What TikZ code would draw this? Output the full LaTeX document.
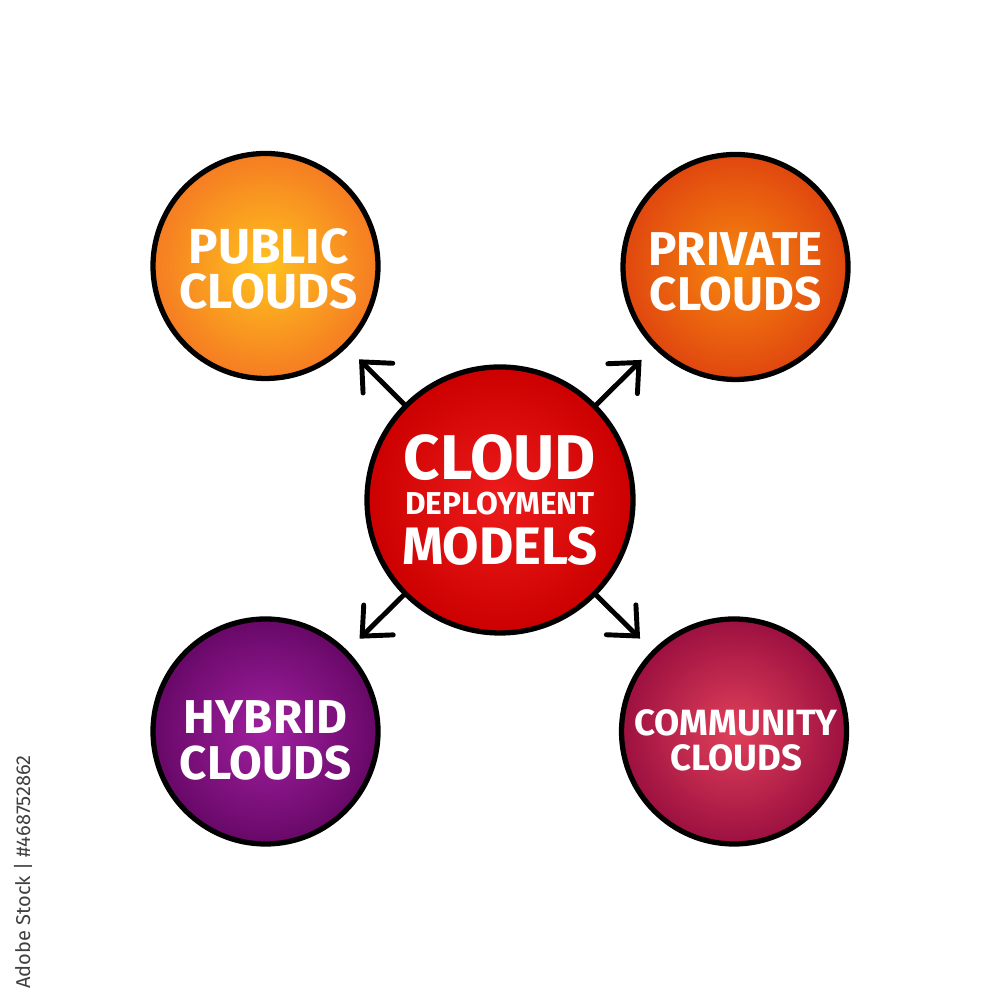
\documentclass[tikz,border=0pt]{standalone}
\usepackage{fontspec}
\setmainfont{Fira Sans}
\usetikzlibrary{arrows.meta}
\usetikzlibrary{positioning}

\definecolor{pubin}{HTML}{FFC21E}
\definecolor{pubout}{HTML}{F57C22}
\definecolor{privin}{HTML}{F7870F}
\definecolor{privout}{HTML}{E0470F}
\definecolor{cdmin}{HTML}{EE1C1C}
\definecolor{cdmout}{HTML}{CC0000}
\definecolor{hybin}{HTML}{A0209F}
\definecolor{hybout}{HTML}{680868}
\definecolor{comin}{HTML}{E0405A}
\definecolor{comout}{HTML}{9C1040}

\tikzset{
  bubble/.style 2 args={circle,draw=black,line width=1.5pt,inner color=#1,outer color=#2,
    text=white,font=\bfseries,align=center,inner sep=0pt,minimum size=2.25cm},
  lbl/.style={text=white,align=center,inner sep=0pt},
  arr/.style={-{Straight Barb[length=2.3mm,width=4.2mm,line cap=round]},line width=1.4pt,line cap=round,shorten >=1.7mm}
}

\begin{document}
\begin{tikzpicture}
  \useasboundingbox (0,0) rectangle (10,10);
  \node[bubble={cdmin}{cdmout},minimum size=2.66cm](cdm) at (5,5)
    {\fontsize{18}{18}\selectfont CLOUD\\[-2pt]\fontsize{9}{9.4}\selectfont DEPLOYMENT\\[2pt]\fontsize{15}{14.2}\selectfont MODELS};
  \node[bubble={pubin}{pubout}](pub) at (2.655,7.34) {};
  \node[bubble={privin}{privout}](priv) at (7.355,7.33) {};
  \node[bubble={hybin}{hybout}](hyb) at (2.655,2.685) {};
  \node[bubble={comin}{comout}](com) at (7.34,2.685) {};
  % texts
  \node[lbl,font=\bfseries\fontsize{14}{12.8}\selectfont](pubtxt) at ([xshift=0.3mm,yshift=-0.3mm]pub.center) {PUBLIC\\CLOUDS};
  \node[lbl,font=\bfseries\fontsize{13.5}{12.8}\selectfont](privtxt) at ([yshift=-0.5mm]priv.center) {PRIVATE\\CLOUDS};
  \node[lbl,font=\bfseries\fontsize{13.5}{13}\selectfont](hybtxt) at ([yshift=-0.9mm]hyb.center) {HYBRID\\CLOUDS};
  \node[lbl,font=\bfseries\fontsize{10.4}{10}\selectfont](comtxt) at ([xshift=0.2mm,yshift=-0.9mm]com.center) {COMMUNITY\\CLOUDS};
  % connectors
  \draw[arr] (cdm)--(pub);
  \draw[arr] (cdm)--(priv);
  \draw[arr] (cdm)--(hyb);
  \draw[arr] (cdm)--(com);
  % stock label
  \node[rotate=90,text=black!75,font=\fontsize{5.7}{6}\selectfont](stock) at (0.23,1.28) {Adobe Stock | \#468752862};
\end{tikzpicture}
\end{document}
